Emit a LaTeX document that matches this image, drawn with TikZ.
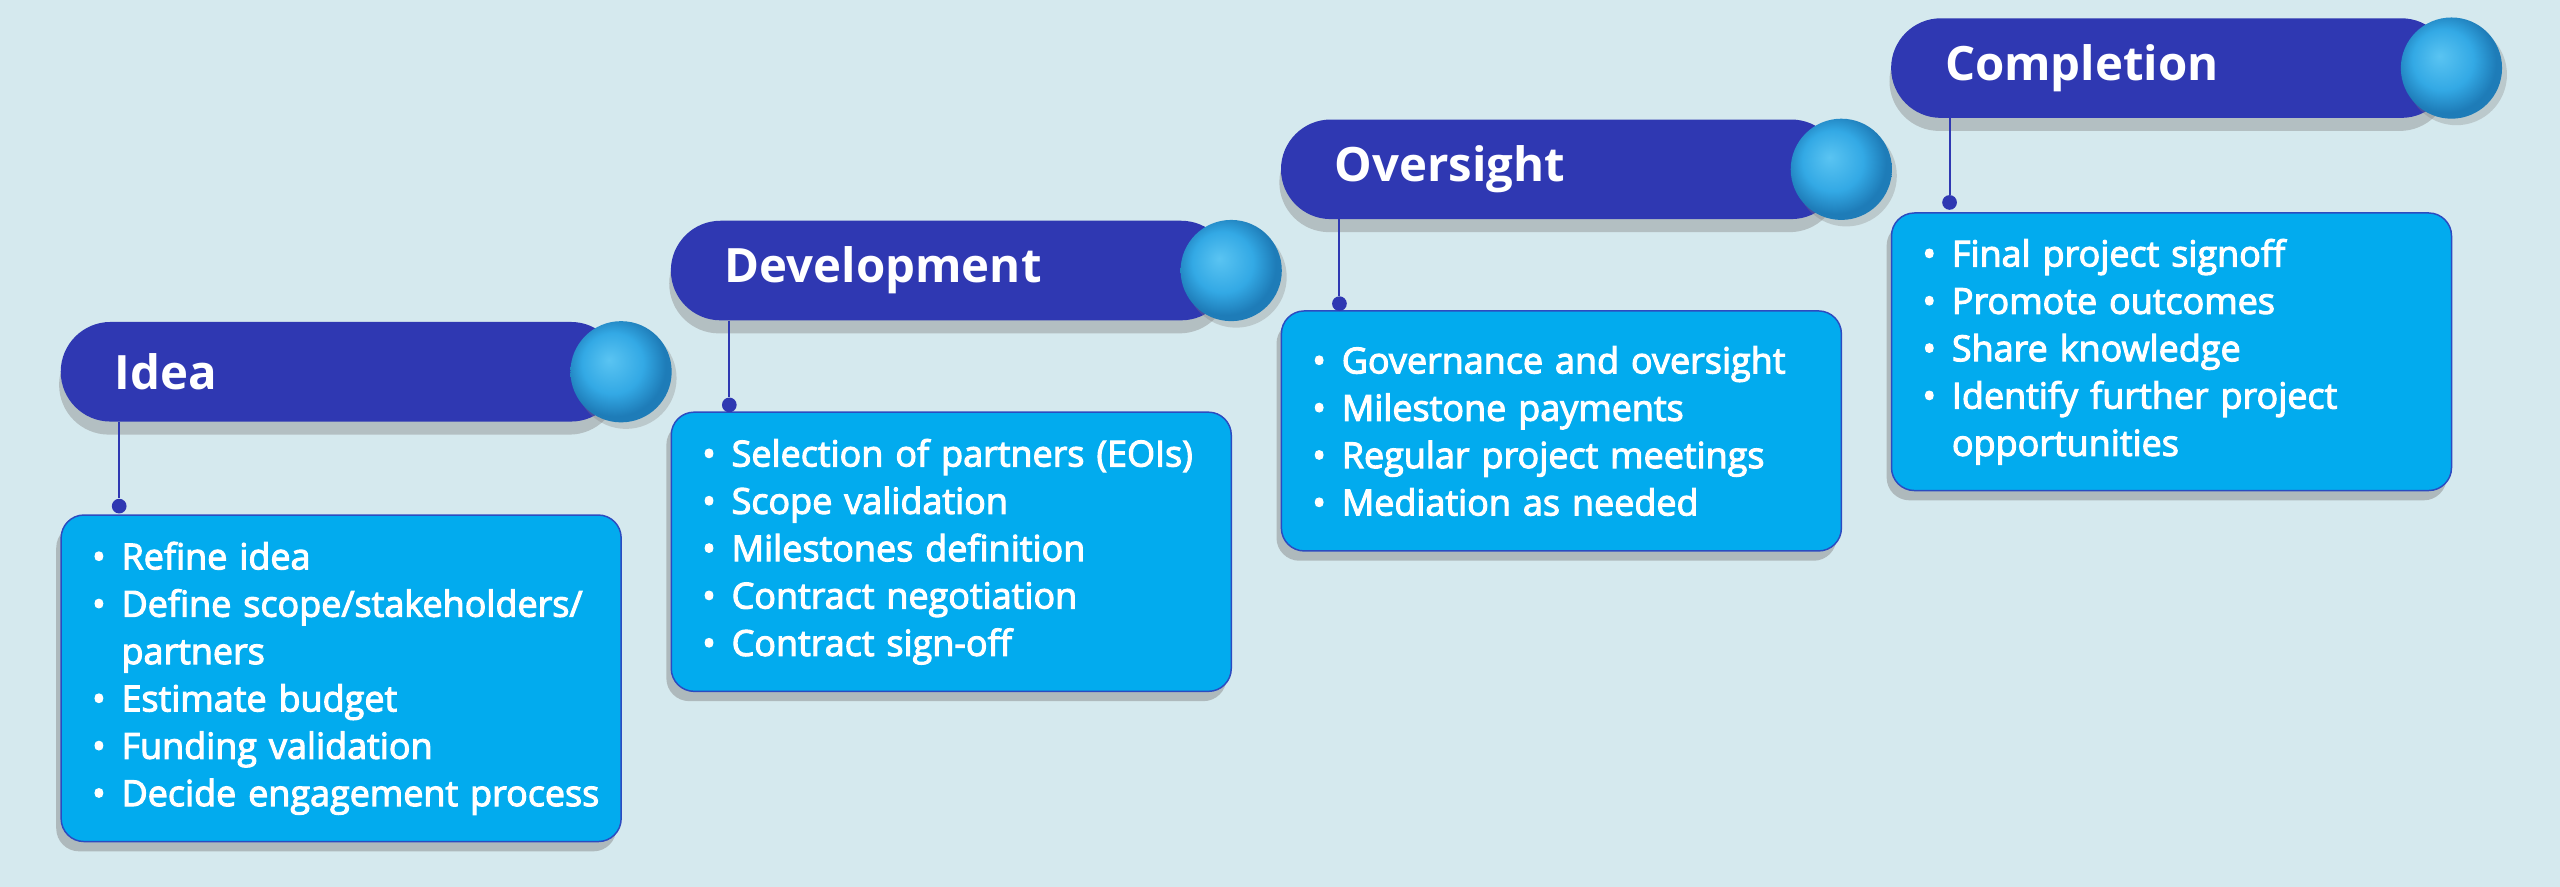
\documentclass[tikz,border=0pt]{standalone}
\usepackage{fontspec}
\setmainfont{Open Sans}
\newfontfamily\semi{Open Sans}[FakeBold=3]
\usepackage{tikz}
\usetikzlibrary{shapes,positioning,calc,shadows}

\definecolor{bgcol}{HTML}{D5E9EE}
\definecolor{hdrcol}{HTML}{2F38B2}
\definecolor{bodycol}{HTML}{02ABEE}
\definecolor{edgecol}{HTML}{2C4BC0}
\definecolor{ballhi}{HTML}{5AC4F2}
\definecolor{ballmid}{HTML}{33A9E5}
\definecolor{balldark}{HTML}{1E7CB8}

\pgfdeclareradialshading{sphere}{\pgfpoint{-6bp}{6bp}}{color(0bp)=(ballhi); color(15bp)=(ballmid); color(25bp)=(balldark); color(50bp)=(balldark)}

\newcommand{\itm}[1]{\makebox[18pt][l]{\textbullet}\mbox{#1}}

\tikzset{
    hdr/.style={rectangle, rounded corners=30.5pt, fill=hdrcol, minimum height=61pt,
        text width=277pt, inner xsep=33pt, inner ysep=0pt, align=left, anchor=north west,
        text=white, font=\bfseries\fontsize{29}{34}\selectfont,
        drop shadow={shadow xshift=-1pt, shadow yshift=-8pt, opacity=0.4}},
    ball/.style={circle, minimum size=62pt, inner sep=0pt, shading=sphere,
        drop shadow={shadow xshift=3pt, shadow yshift=-4pt, opacity=0.3}},
    body/.style={rectangle, rounded corners=14pt, fill=bodycol, draw=edgecol, line width=0.9pt,
        text width=305pt, inner xsep=19pt, inner ysep=0pt, align=left, anchor=north west,
        text=white, font=\semi\fontsize{22}{29}\selectfont,
        drop shadow={shadow xshift=-3pt, shadow yshift=-6pt, opacity=0.45}},
    dot/.style={circle, fill=hdrcol, minimum size=9pt, inner sep=0pt},
    link/.style={draw=hdrcol, line width=1.2pt}
}

\begin{document}
\begin{tikzpicture}[x=1pt, y=-1pt]
    \path[use as bounding box, fill=bgcol] (0,0) rectangle (1568,543);

    % task boxes
    \node[body, minimum height=200pt] (body1) at (37,315) {\itm{Refine idea}\\
        \itm{Define scope/stakeholders/}\\ \hspace*{18pt}partners\\
        \itm{Estimate budget}\\ \itm{Funding validation}\\ \itm{Decide engagement process}};
    \node[body, minimum height=171pt] (body2) at (410.7,252) {\itm{Selection of partners (EOIs)}\\
        \itm{Scope validation}\\ \itm{Milestones definition}\\
        \itm{Contract negotiation}\\ \itm{Contract sign-off}};
    \node[body, minimum height=147pt] (body3) at (784.4,190) {\itm{Governance and oversight}\\
        \itm{Milestone payments}\\ \itm{Regular project meetings}\\ \itm{Mediation as needed}};
    \node[body, minimum height=170pt] (body4) at (1158.1,130) {\itm{Final project signoff}\\
        \itm{Promote outcomes}\\ \itm{Share knowledge}\\
        \itm{Identify further project}\\ \hspace*{18pt}opportunities};

    % stage headers
    \foreach \t [count=\i] in {Idea,Development,Oversight,Completion} {
        \pgfmathsetmacro\x{37+373.7*(\i-1)}
        \pgfmathsetmacro\y{197-62*(\i-1)}
        \node[hdr] (hdr\i) at (\x,\y) {\t};
        \node[ball] (ball\i) at (hdr\i.east) {};
        \node[dot] (dot\i) at (\x+36,\y+113) {};
        \draw[link] (hdr\i.south -| dot\i) -- (dot\i);
    }
\end{tikzpicture}
\end{document}
